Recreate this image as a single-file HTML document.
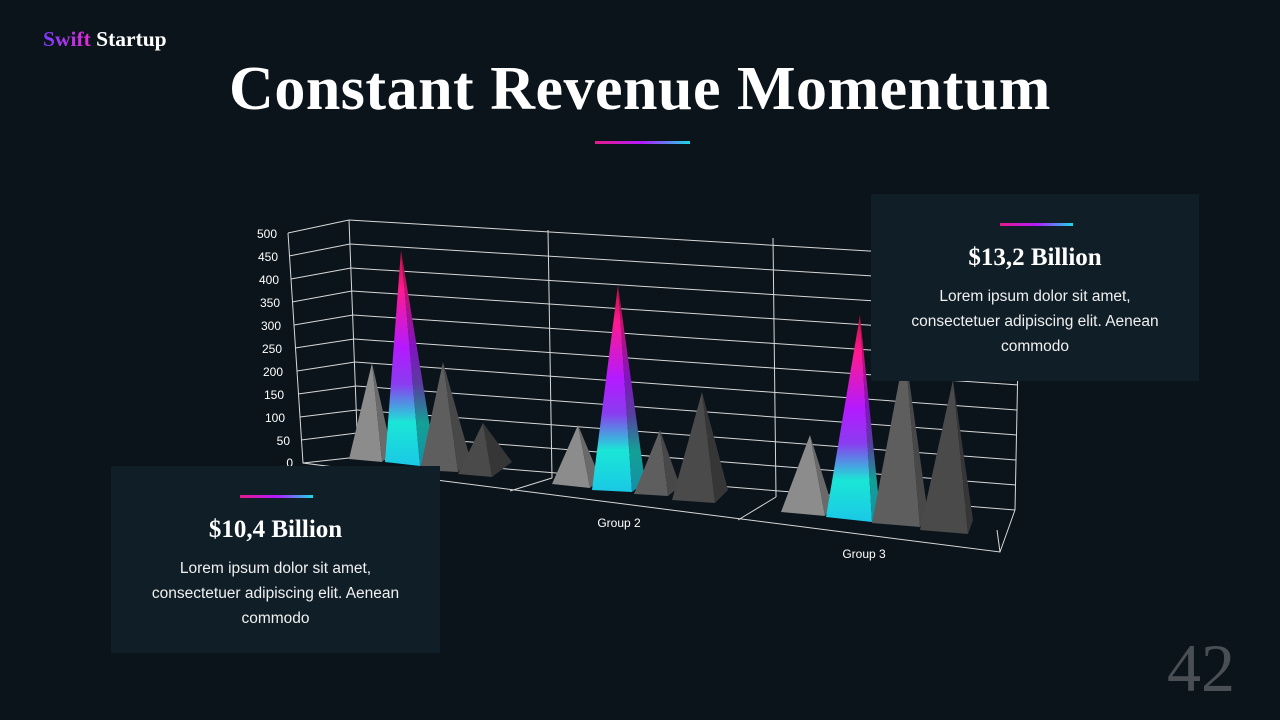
<!DOCTYPE html>
<html><head><meta charset="utf-8"><style>
body{margin:0;width:1280px;height:720px;background:#0b141b;overflow:hidden;position:relative;font-family:"Liberation Sans",sans-serif}
.logo{position:absolute;left:43px;top:27px;font:bold 21.5px "Liberation Serif",serif;color:#fff}
.logo span{background:linear-gradient(90deg,#7a3cff,#e62ad6);-webkit-background-clip:text;color:transparent}
h1{position:absolute;left:0;width:1280px;top:54px;margin:0;text-align:center;font:bold 62px "Liberation Serif",serif;color:#fff;letter-spacing:0.5px}
.bar{position:absolute;height:3px;background:linear-gradient(90deg,#e61a8c,#b31aff,#1ad9e6)}
.box{position:absolute;background:#101e27;color:#fff;text-align:center}
.box h2{margin:0;font:bold 25px "Liberation Serif",serif}
.box p{margin:12px 0 0;font-size:15.5px;line-height:25px;color:#f0f0f0}
.num{position:absolute;left:1167px;top:629px;font:68px "Liberation Serif",serif;color:#4a4f55}
</style></head><body>
<div class="logo"><span>Swift</span> Startup</div>
<h1>Constant Revenue Momentum</h1>
<div class="bar" style="left:595px;top:141px;width:95px"></div>
<svg width="1280" height="720" style="position:absolute;left:0;top:0">
<defs>
<linearGradient id="g" x1="0" y1="0" x2="0" y2="1">
<stop offset="0" stop-color="#c01040"/><stop offset="0.18" stop-color="#ff1a90"/><stop offset="0.45" stop-color="#b41aff"/><stop offset="0.62" stop-color="#8a3cf0"/><stop offset="0.8" stop-color="#1ae6d6"/><stop offset="1" stop-color="#1ac8e6"/></linearGradient>
<linearGradient id="gd" x1="0" y1="0" x2="0" y2="1">
<stop offset="0" stop-color="#801030"/><stop offset="0.18" stop-color="#c01470"/><stop offset="0.45" stop-color="#8014c0"/><stop offset="0.62" stop-color="#5a3ca0"/><stop offset="0.8" stop-color="#14a096"/><stop offset="1" stop-color="#1490a6"/></linearGradient>
</defs>
<g stroke="#d8d8d8" stroke-width="1" fill="none">
<path d="M349 220 L358 457 M1020 260 L1015 510 M548 230 L552 478 M773 238 L776 497"/>
<path d="M288 233 L303 463 L1000 552 L1015 510 M303 463 L358 457 L1015 510 M552 478 L510 491 M776 497 L738 520 M1000 552 L997 530"/>
<path d="M288 233 L349 220"/>
</g>
<g stroke="#d8d8d8" stroke-width="1" fill="none">
<path d="M349 220 L1020 260 M350 244 L1020 285 M351 268 L1019 310 M352 291 L1019 335 M353 315 L1018 360 M354 339 L1018 385 M355 362 L1017 410 M356 386 L1017 435 M357 410 L1016 460 M357 433 L1016 485"/>
<path d="M289 256 L350 244 M291 279 L351 268 M292 302 L352 291 M294 325 L353 315 M295 348 L354 339 M297 371 L355 362 M298 394 L356 386 M300 417 L357 410 M301 440 L357 433"/>
</g>
<g font-size="12" fill="#fff" text-anchor="end" font-family="Liberation Sans,sans-serif">
<text x="277" y="238">500</text><text x="278" y="261">450</text><text x="279" y="284">400</text><text x="280" y="307">350</text><text x="281" y="330">300</text><text x="282" y="353">250</text><text x="283" y="376">200</text><text x="284" y="399">150</text><text x="285" y="422">100</text><text x="290" y="445">50</text><text x="293" y="467">0</text>
</g>
<g font-size="12" fill="#fff" text-anchor="middle"><text x="619" y="527">Group 2</text><text x="864" y="558">Group 3</text></g>
<polygon points="372,363 349,459 382,462" fill="#8c8c8c"/><polygon points="372,363 382,462 392,452" fill="#6a6a6a"/>
<polygon points="401,250 385,462 420,466" fill="url(#g)"/><polygon points="401,250 420,466 435,458" fill="url(#gd)"/>
<polygon points="443,362 420,470 458,472" fill="#5e5e5e"/><polygon points="443,362 458,472 470,458" fill="#484848"/>
<polygon points="483,423 458,474 492,477" fill="#4a4a4a"/><polygon points="483,423 492,477 512,462" fill="#363636"/>
<polygon points="578,425 552,484 590,488" fill="#8c8c8c"/><polygon points="578,425 590,488 600,478" fill="#6a6a6a"/>
<polygon points="618,285 592,490 632,492" fill="url(#g)"/><polygon points="618,285 632,492 645,482" fill="url(#gd)"/>
<polygon points="660,430 634,494 668,496" fill="#5e5e5e"/><polygon points="660,430 668,496 680,486" fill="#484848"/>
<polygon points="702,392 672,500 715,503" fill="#4a4a4a"/><polygon points="702,392 715,503 728,490" fill="#363636"/>
<polygon points="810,435 781,512 825,516" fill="#8c8c8c"/><polygon points="810,435 825,516 832,505" fill="#6a6a6a"/>
<polygon points="860,315 826,517 872,522" fill="url(#g)"/><polygon points="860,315 872,522 880,512" fill="url(#gd)"/>
<polygon points="905,350 872,523 920,527" fill="#5e5e5e"/><polygon points="905,350 920,527 928,515" fill="#484848"/>
<polygon points="953,380 920,530 968,534" fill="#4a4a4a"/><polygon points="953,380 968,534 973,520" fill="#363636"/>
</svg>
<div class="box" style="left:111px;top:466px;width:329px;height:187px">
<div class="bar" style="left:129px;top:29px;width:73px"></div>
<h2 style="margin-top:50px">$10,4 Billion</h2>
<p>Lorem ipsum dolor sit amet,<br>consectetuer adipiscing elit. Aenean<br>commodo</p></div>
<div class="box" style="left:871px;top:194px;width:328px;height:187px">
<div class="bar" style="left:129px;top:29px;width:73px"></div>
<h2 style="margin-top:50px">$13,2 Billion</h2>
<p>Lorem ipsum dolor sit amet,<br>consectetuer adipiscing elit. Aenean<br>commodo</p></div>
<div class="num">42</div>
</body></html>
